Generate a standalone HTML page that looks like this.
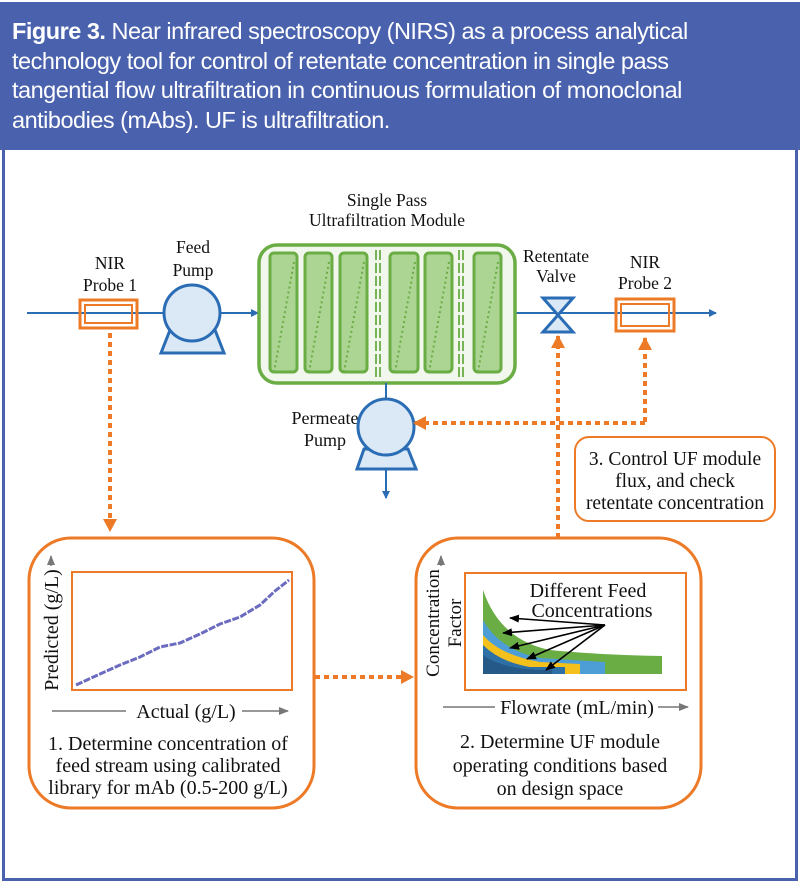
<!DOCTYPE html>
<html><head><meta charset="utf-8"><style>
html,body{margin:0;padding:0;background:#fff;}
body{width:800px;height:885px;position:relative;overflow:hidden;font-family:"Liberation Sans",sans-serif;}
#hdr{position:absolute;left:0;top:2px;width:800px;height:148px;background:#4a62ad;}
#hdr p{margin:0;position:absolute;left:12px;top:15px;color:#fff;font-size:23.5px;line-height:29.5px;letter-spacing:-0.5px;width:860px;}
#frame{position:absolute;left:2px;top:150px;width:790px;height:728px;border:3px solid #4a62ad;border-top:none;background:#fff;}
svg{position:absolute;left:0;top:0;}
</style></head><body>
<div id="hdr"><p><b>Figure 3.</b> Near infrared spectroscopy (NIRS) as a process analytical<br>technology tool for control of retentate concentration in single pass<br>tangential flow ultrafiltration in continuous formulation of monoclonal<br>antibodies (mAbs). UF is ultrafiltration.</p></div>
<div id="frame"></div>
<svg width="800" height="885" viewBox="0 0 800 885" font-family="Liberation Serif, serif" font-size="17.5" fill="#111">
<defs>
<marker id="ab" markerWidth="8" markerHeight="8" refX="7" refY="4" orient="auto" markerUnits="userSpaceOnUse"><path d="M0,0 L8,4 L0,8 z" fill="#2a6db5"/></marker>
<marker id="ao" markerWidth="14" markerHeight="14" refX="12" refY="7" orient="auto" markerUnits="userSpaceOnUse"><path d="M0,0 L13,7 L0,14 z" fill="#ec7a26"/></marker>
<marker id="ag" markerWidth="10" markerHeight="10" refX="9" refY="5" orient="auto" markerUnits="userSpaceOnUse"><path d="M0,1 L10,5 L0,9 z" fill="#777"/></marker>
<marker id="ak" markerWidth="10" markerHeight="10" refX="9" refY="5" orient="auto" markerUnits="userSpaceOnUse"><path d="M0,1 L10,5 L0,9 z" fill="#000"/></marker>
</defs>
<line x1="27" y1="313" x2="258" y2="313" stroke="#2a6db5" stroke-width="2" marker-end="url(#ab)"/>
<line x1="515" y1="313" x2="716" y2="313" stroke="#2a6db5" stroke-width="2" marker-end="url(#ab)"/>
<g text-anchor="middle">
<text x="110" y="269">NIR</text><text x="110" y="291">Probe 1</text>
<text x="193" y="253">Feed</text><text x="193" y="276">Pump</text>
<text x="387" y="206">Single Pass</text><text x="387" y="226">Ultrafiltration Module</text>
<text x="556" y="262">Retentate</text><text x="556" y="282">Valve</text>
<text x="645" y="268">NIR</text><text x="645" y="289">Probe 2</text>
<text x="325" y="424" font-size="18">Permeate</text><text x="325" y="446" font-size="18">Pump</text>
</g>
<rect x="80" y="300" width="57" height="28" fill="none" stroke="#ec7a26" stroke-width="3"/>
<rect x="85" y="305" width="47" height="18" fill="none" stroke="#ec7a26" stroke-width="2"/>
<path d="M170,330 L161,353 L224,353 L215,330 z" fill="#dbe8f5" stroke="#2a6db5" stroke-width="3"/>
<circle cx="192" cy="313" r="28" fill="#dbe8f5" stroke="#2a6db5" stroke-width="3"/>
<rect x="259" y="245" width="256" height="138" rx="18" fill="#f1f7ec" stroke="#6aad45" stroke-width="3.5"/>
<g fill="#acd492" stroke="#6aad45" stroke-width="3">
<rect x="270" y="253" width="27" height="119" rx="4"/>
<rect x="305" y="253" width="27" height="119" rx="4"/>
<rect x="340" y="253" width="27" height="119" rx="4"/>
<rect x="390" y="253" width="28" height="119" rx="4"/>
<rect x="425" y="253" width="27" height="119" rx="4"/>
<rect x="474" y="253" width="27" height="119" rx="4"/>
</g>
<g stroke="#6aad45" stroke-width="2" stroke-dasharray="2,3">
<line x1="294" y1="262" x2="274" y2="372"/><line x1="329" y1="262" x2="309" y2="372"/><line x1="364" y1="262" x2="344" y2="372"/>
<line x1="415" y1="262" x2="395" y2="372"/><line x1="449" y1="262" x2="429" y2="372"/><line x1="498" y1="262" x2="478" y2="372"/>
</g>
<g stroke="#6aad45" stroke-width="1.8" stroke-dasharray="10,3">
<line x1="376" y1="250" x2="376" y2="378"/><line x1="380" y1="250" x2="380" y2="378"/>
<line x1="459" y1="250" x2="459" y2="378"/><line x1="463" y1="250" x2="463" y2="378"/>
</g>
<path d="M543,298 L573,298 L543,332 L573,332 z" fill="#dbe8f5" stroke="#2a6db5" stroke-width="3"/>
<rect x="616" y="299" width="58" height="32" fill="none" stroke="#ec7a26" stroke-width="3"/>
<rect x="621" y="304" width="48" height="22" fill="none" stroke="#ec7a26" stroke-width="2"/>
<line x1="386" y1="383" x2="386" y2="399" stroke="#2a6db5" stroke-width="2"/>
<path d="M364,449 L357,469 L416,469 L408,449 z" fill="#dbe8f5" stroke="#2a6db5" stroke-width="3"/>
<circle cx="386" cy="427" r="28" fill="#dbe8f5" stroke="#2a6db5" stroke-width="3"/>
<line x1="386" y1="469" x2="386" y2="498" stroke="#2a6db5" stroke-width="2" marker-end="url(#ab)"/>
<g stroke="#ec7a26" stroke-width="4" stroke-dasharray="5,4" fill="none">
<line x1="110" y1="333" x2="110" y2="531" marker-end="url(#ao)"/>
<polyline points="645,422 645,338" marker-end="url(#ao)"/>
<polyline points="645,423 414,423" marker-end="url(#ao)"/>
<line x1="558" y1="538" x2="558" y2="336" marker-end="url(#ao)"/>
<line x1="315" y1="677" x2="413" y2="677" marker-end="url(#ao)"/>
</g>
<rect x="575" y="437" width="200" height="84" rx="14" fill="#fff" stroke="#ec7a26" stroke-width="2"/>
<g text-anchor="middle" font-size="19.5"><text x="675" y="465">3. Control UF module</text><text x="675" y="487">flux, and check</text><text x="675" y="509">retentate concentration</text></g>
<rect x="29" y="538" width="285" height="270" rx="42" fill="#fff" stroke="#ec7a26" stroke-width="3"/>
<rect x="72" y="572" width="220" height="118" fill="#fff" stroke="#ec7a26" stroke-width="2"/>
<path d="M76,685 L100,674 L120,665 L140,657 L160,647 L180,643 L200,634 L220,624 L240,617 L260,605 L275,591 L289,580" stroke="#4646b0" stroke-width="3" fill="none" opacity="0.8" stroke-dasharray="7,1.5"/>
<line x1="51" y1="566" x2="51" y2="556" stroke="#777" stroke-width="1.5" marker-end="url(#ag)"/>
<text transform="translate(58,630) rotate(-90)" text-anchor="middle" font-size="20">Predicted (g/L)</text>
<line x1="52" y1="711" x2="126" y2="711" stroke="#777" stroke-width="1.5"/>
<line x1="242" y1="711" x2="288" y2="711" stroke="#777" stroke-width="1.5" marker-end="url(#ag)"/>
<text x="186" y="718" text-anchor="middle" font-size="20">Actual (g/L)</text>
<g text-anchor="middle" font-size="20"><text x="168" y="750">1. Determine concentration of</text><text x="168" y="772">feed stream using calibrated</text><text x="168" y="794">library for mAb (0.5-200 g/L)</text></g>
<rect x="416" y="538" width="285" height="270" rx="42" fill="#fff" stroke="#ec7a26" stroke-width="3"/>
<rect x="465" y="573" width="221" height="117" fill="#fff" stroke="#ec7a26" stroke-width="2"/>
<path d="M483,590 Q500,640 550,650 Q600,655 662,656 L662,674 L483,674 z" fill="#6aad45"/>
<path d="M483,620 Q500,650 540,658 L605,662 L605,674 L483,674 z" fill="#4d9ed6"/>
<path d="M483,635 Q500,655 540,662 L580,664 L580,674 L483,674 z" fill="#f4c01c"/>
<path d="M483,645 Q500,662 530,667 L565,667 L565,674 L483,674 z" fill="#2d70a6"/>
<path d="M483,655 Q500,668 540,670 L552,670 L552,674 L483,674 z" fill="#255a88"/>
<g stroke="#000" stroke-width="1.6">
<line x1="605" y1="625" x2="510" y2="618" marker-end="url(#ak)"/>
<line x1="605" y1="625" x2="503" y2="633" marker-end="url(#ak)"/>
<line x1="605" y1="625" x2="510" y2="648" marker-end="url(#ak)"/>
<line x1="605" y1="625" x2="527" y2="659" marker-end="url(#ak)"/>
<line x1="605" y1="625" x2="546" y2="670" marker-end="url(#ak)"/>
</g>
<text x="588" y="597" text-anchor="middle" font-size="20">Different Feed</text>
<text x="592" y="617" text-anchor="middle" font-size="20">Concentrations</text>
<line x1="441" y1="566" x2="441" y2="556" stroke="#777" stroke-width="1.5" marker-end="url(#ag)"/>
<text transform="translate(439,623) rotate(-90)" text-anchor="middle" font-size="19">Concentration</text>
<text transform="translate(461,623) rotate(-90)" text-anchor="middle" font-size="19">Factor</text>
<line x1="443" y1="707" x2="495" y2="707" stroke="#777" stroke-width="1.5"/>
<line x1="658" y1="707" x2="688" y2="707" stroke="#777" stroke-width="1.5" marker-end="url(#ag)"/>
<text x="577" y="714" text-anchor="middle" font-size="20">Flowrate (mL/min)</text>
<g text-anchor="middle" font-size="20"><text x="560" y="748">2. Determine UF module</text><text x="560" y="772">operating conditions based</text><text x="560" y="795">on design space</text></g>
</svg>
</body></html>
